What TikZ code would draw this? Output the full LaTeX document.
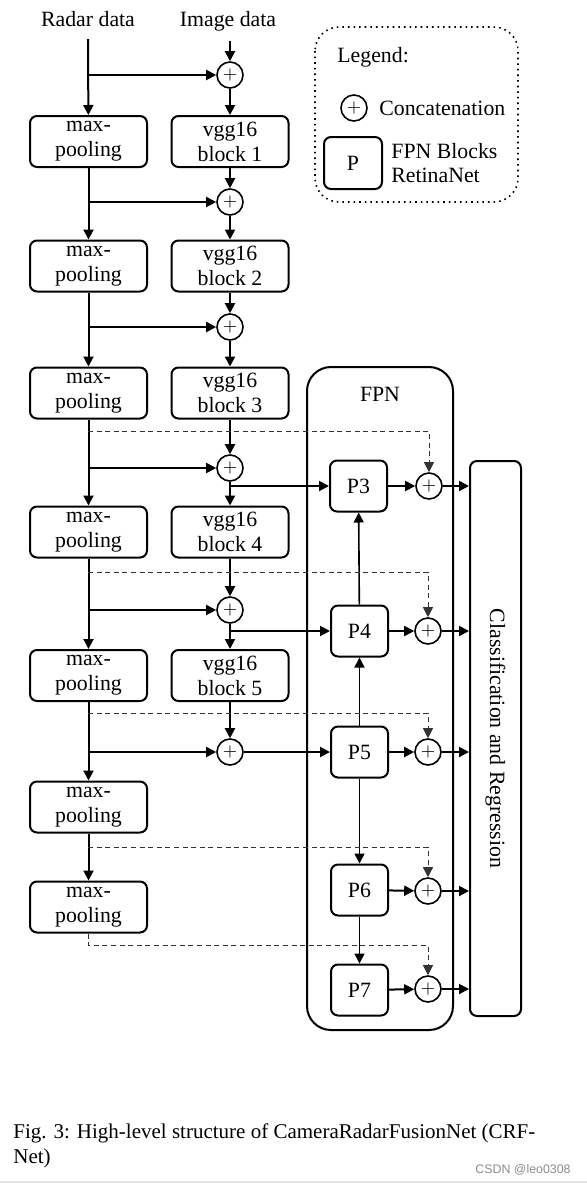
\documentclass[tikz,border=0pt]{standalone}
\usepackage{fontspec}
\setmainfont{Liberation Serif}
\newfontfamily\wmfont{Liberation Sans}
\usepackage{tikz}
\usetikzlibrary{arrows.meta,positioning,calc}

\tikzset{
  blk/.style={draw,line width=1pt,rounded corners=3.5pt,minimum width=58.5pt,minimum height=25.5pt,align=center,inner sep=0pt,
    font=\fontsize{10.9}{12.6}\selectfont},
  pblk/.style={blk,minimum width=28.5pt},
  cat/.style={draw,circle,line width=0.8pt,minimum size=13pt,inner sep=0pt,font=\fontsize{9}{9}\selectfont},
  arr/.style={line width=1pt,-{Triangle[length=5pt,width=5pt]}},
  dsh/.style={line width=0.5pt,black!80,dash pattern=on 2.5pt off 1.8pt,-{Triangle[length=5pt,width=5pt]}}
}

\begin{document}
\begin{tikzpicture}[x=0.5pt,y=-0.5pt,font=\fontsize{10.9}{12}\selectfont]
\useasboundingbox[fill=white] (0,0) rectangle (587,1185);

\node[anchor=base] (radar) at (88,26) {Radar data};
\node[anchor=base] (image) at (228,26) {Image data};
\coordinate (rtop) at (88,39);
\coordinate (itop) at (230,41);

\node[blk] (mp1) at (88.5,141.5) {max-\\pooling};
\node[blk] (mp2) at (88.5,266) {max-\\pooling};
\node[blk] (mp3) at (88.5,393) {max-\\pooling};
\node[blk] (mp4) at (88.5,532) {max-\\pooling};
\node[blk] (mp5) at (88.5,675.5) {max-\\pooling};
\node[blk] (mp6) at (88.5,807) {max-\\pooling};
\node[blk] (mp7) at (88.5,907) {max-\\pooling};

\node[blk] (v1) at (230,141.5) {vgg16\\block 1};
\node[blk] (v2) at (230,266) {vgg16\\block 2};
\node[blk] (v3) at (230,393) {vgg16\\block 3};
\node[blk] (v4) at (230,532) {vgg16\\block 4};
\node[blk] (v5) at (230,675.5) {vgg16\\block 5};

\node[cat] (c1) at (230,75) {$+$};
\node[cat] (c2) at (230,202) {$+$};
\node[cat] (c3) at (230,327) {$+$};
\node[cat] (c4) at (230,468) {$+$};
\node[cat] (c5) at (230,610) {$+$};
\node[cat] (c6) at (230,752) {$+$};

\node[draw,line width=1pt,rounded corners=12pt,minimum width=73pt,minimum height=331.5pt] (fpn) at (380,698.5) {};
\node (fpnlabel) at (380,394) {FPN};

\node[pblk] (p3) at (358.5,486) {P3};
\node[pblk] (p4) at (359.5,631) {P4};
\node[pblk] (p5) at (359.5,752) {P5};
\node[pblk] (p6) at (359.5,890) {P6};
\node[pblk] (p7) at (359.5,990) {P7};

\node[cat] (s3) at (429,486) {$+$};
\node[cat] (s4) at (428,631) {$+$};
\node[cat] (s5) at (428,752) {$+$};
\node[cat] (s6) at (428,891) {$+$};
\node[cat] (s7) at (428,989) {$+$};

\node[draw,line width=1pt,rounded corners=3.5pt,minimum width=25.5pt,minimum height=277.5pt,
  label={[rotate=-90]center:Classification and Regression}] (cls) at (495.5,738.5) {};

\draw[line width=0.8pt,dotted,rounded corners=12pt] (315,27) rectangle (518,202);
\node[anchor=west,inner sep=0pt] (leg) at (337,57) {Legend:};
\node[cat] (lc) at (354,108) {$+$};
\node[anchor=west,inner sep=0pt] (lctext) at (379,108) {Concatenation};
\node[pblk,minimum width=29pt,minimum height=26pt] (lp) at (353,163) {P};
\node[anchor=west,align=left,inner sep=0pt] (lptext) at (391,163) {FPN Blocks\\RetinaNet};

\draw[arr] (rtop) -- (mp1);
\draw[arr] (itop) -- (c1);
\draw[arr] (c1 -| mp1) -- (c1);
\foreach \a/\b in {mp1/mp2,mp2/mp3,mp3/mp4,mp4/mp5,mp5/mp6,mp6/mp7}
  \draw[arr] (\a) -- (\b);
\foreach \c in {c2,c3,c4,c5,c6}
  \draw[arr] (\c -| mp1) -- (\c);
\foreach \a/\b in {c1/v1,v1/c2,c2/v2,v2/c3,c3/v3,v3/c4,c4/v4,v4/c5,c5/v5,v5/c6}
  \draw[arr] (\a) -- (\b);

\draw[arr] (c4 |- p3) -- (p3);
\draw[arr] (c5 |- p4) -- (p4);
\draw[arr] (c6) -- (p5);
\draw[arr,line width=0.8pt] (p4) -- (p3);
\draw[arr,line width=0.8pt] (p5) -- (p4);
\draw[arr,line width=0.8pt] (p5) -- (p6);
\draw[arr,line width=0.8pt] (p6) -- (p7);
\foreach \i in {3,4,5,6,7}{
  \draw[arr] (p\i) -- (s\i);
  \draw[arr] (s\i) -- (s\i -| cls.west);
}

\coordinate (d3) at (88,431);
\coordinate (d4) at (88,572);
\coordinate (d5) at (88,713);
\coordinate (d6) at (88,847);
\foreach \i in {3,4,5,6}
  \draw[dsh] (d\i) -| (s\i.north);
\draw[dsh] (mp7.south) -- ++(0,12) -| (s7.north);

\node[anchor=north west,align=left,inner sep=0pt,font=\fontsize{10.5}{12.5}\selectfont] (caption) at (13,1123)
  {Fig. 3: High-level structure of CameraRadarFusionNet (CRF-\\Net)};
\node[text=black!45,font=\wmfont\fontsize{6.2}{7}\selectfont] (wm) at (523,1170) {CSDN @leo0308};
\draw[black!10,line width=1pt] (0,1182) -- (587,1182);
\end{tikzpicture}
\end{document}
